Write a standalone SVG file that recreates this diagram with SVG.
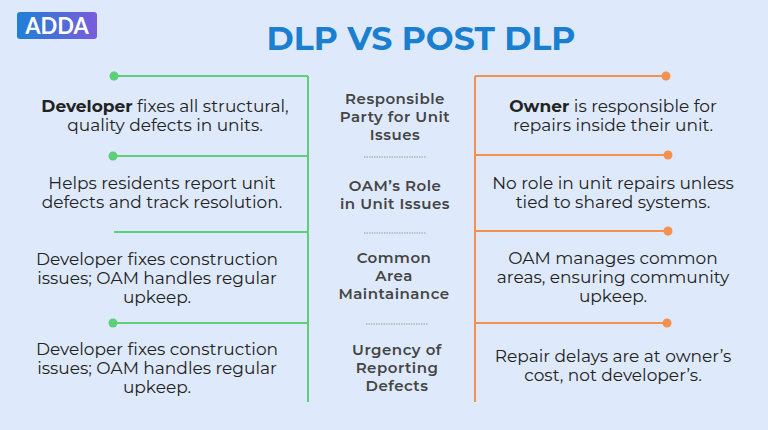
<svg xmlns="http://www.w3.org/2000/svg" width="768" height="430" viewBox="0 0 768 430">
<defs>
<linearGradient id="lg" x1="0" x2="1"><stop offset="0" stop-color="#1f7fd6"/><stop offset="1" stop-color="#7a5cdc"/></linearGradient>
<style>
.t{font-family:Montserrat,"Open Sans","Noto Sans",sans-serif;font-size:17px;fill:#222;text-anchor:middle}
.m{font-family:Montserrat,"Open Sans","Noto Sans",sans-serif;font-size:15px;font-weight:600;fill:#444;text-anchor:middle;letter-spacing:0.5px}
.g{stroke:#5ccf78;stroke-width:2;fill:none}
.o{stroke:#f5904f;stroke-width:2;fill:none}
.d{stroke:#999;stroke-width:1;stroke-dasharray:1.5 1}
</style>
</defs>
<rect width="768" height="430" fill="#deeafb"/>
<g id="logo"><rect x="17" y="12" width="80" height="27" rx="3" fill="url(#lg)"/>
<text x="57" y="34" font-family="Lato,'Open Sans',sans-serif" font-weight="700" font-size="22" fill="#fff" text-anchor="middle">ADDA</text></g>
<text id="title" x="421" y="50" font-family="Montserrat,'Open Sans',sans-serif" font-weight="700" font-size="33" fill="#1a7fd0" text-anchor="middle">DLP VS POST DLP</text>
<g id="connectors">
<path class="g" d="M308 76V402M114 76H308M114 156H308M308 232H114M114 323H308"/>
<path class="o" d="M475 76V402M475 76H666M475 155H666M475 231H666M475 323H666"/>
<g fill="#5ccf78"><circle cx="114" cy="76" r="4.5"/><circle cx="113" cy="156" r="4.5"/><circle cx="113" cy="323" r="4.5"/></g>
<g fill="#f5904f"><circle cx="666" cy="76" r="4.5"/><circle cx="668" cy="155" r="4.5"/><circle cx="668" cy="231" r="4.5"/><circle cx="667" cy="323" r="4.5"/></g>
<path class="d" d="M364 157H426M364 233H426M366 324H428"/>
</g>
<g id="left1"><text class="t" x="165" y="112"><tspan font-weight="700">Developer</tspan> fixes all structural,</text><text class="t" x="165" y="131">quality defects in units.</text></g>
<g id="left2"><text class="t" x="162" y="189">Helps residents report unit</text><text class="t" x="162" y="208">defects and track resolution.</text></g>
<g id="left3"><text class="t" x="157" y="265">Developer fixes construction</text><text class="t" x="157" y="284">issues; OAM handles regular</text><text class="t" x="157" y="303">upkeep.</text></g>
<g id="left4"><text class="t" x="157" y="355">Developer fixes construction</text><text class="t" x="157" y="374">issues; OAM handles regular</text><text class="t" x="157" y="393">upkeep.</text></g>
<g id="mid1"><text class="m" x="395" y="104">Responsible</text><text class="m" x="395" y="122">Party for Unit</text><text class="m" x="395" y="140">Issues</text></g>
<g id="mid2"><text class="m" x="395" y="191">OAM’s Role</text><text class="m" x="395" y="209">in Unit Issues</text></g>
<g id="mid3"><text class="m" x="394" y="263">Common</text><text class="m" x="394" y="281">Area</text><text class="m" x="394" y="299">Maintainance</text></g>
<g id="mid4"><text class="m" x="397" y="355">Urgency of</text><text class="m" x="397" y="373">Reporting</text><text class="m" x="397" y="391">Defects</text></g>
<g id="right1"><text class="t" x="613" y="112"><tspan font-weight="700">Owner</tspan> is responsible for</text><text class="t" x="613" y="131">repairs inside their unit.</text></g>
<g id="right2"><text class="t" x="613" y="189">No role in unit repairs unless</text><text class="t" x="613" y="208">tied to shared systems.</text></g>
<g id="right3"><text class="t" x="613" y="264">OAM manages common</text><text class="t" x="613" y="283">areas, ensuring community</text><text class="t" x="613" y="302">upkeep.</text></g>
<g id="right4"><text class="t" x="613" y="362">Repair delays are at owner’s</text><text class="t" x="613" y="381">cost, not developer’s.</text></g>
</svg>
